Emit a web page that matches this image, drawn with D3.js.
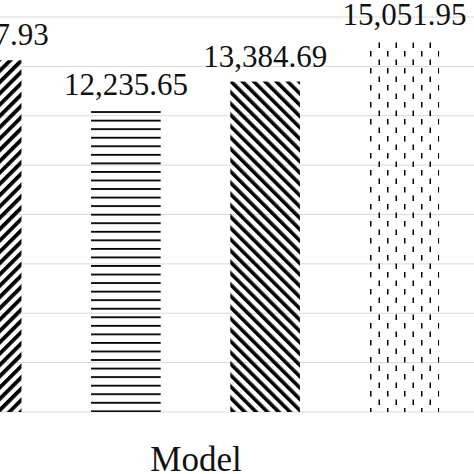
<!DOCTYPE html>
<html>
<head>
<meta charset="utf-8">
<script src="https://cdn.jsdelivr.net/npm/d3@7"></script>
<style>
  body { margin: 0; background: #fff; }
  text { font-family: "Liberation Serif", "DejaVu Serif", serif; fill: #111; }
</style>
</head>
<body>
<svg id="chart" width="474" height="474"></svg>
<script>
// Chart data
const models = ["M1", "M2", "M3", "M4"];
const values = [14247.93, 12235.65, 13384.69, 15051.95];
const labels = ["14,247.93", "12,235.65", "13,384.69", "15,051.95"];
const gridTicks = [0, 2000, 4000, 6000, 8000, 10000, 12000, 14000, 16000];
const patterns = ["pUp", "pHoriz", "pDown", "pDash"];

const svg = d3.select("#chart");

// Pattern definitions
const defs = svg.append("defs");

const up = defs.append("pattern").attr("id", "pUp")
  .attr("patternUnits", "userSpaceOnUse").attr("width", 8).attr("height", 8)
  .attr("patternTransform", "rotate(45)");
up.append("rect").attr("x", 0).attr("y", 0).attr("width", 3.8).attr("height", 8).attr("fill", "#000");

const down = defs.append("pattern").attr("id", "pDown")
  .attr("patternUnits", "userSpaceOnUse").attr("width", 8).attr("height", 8)
  .attr("patternTransform", "rotate(-45)");
down.append("rect").attr("x", 0).attr("y", 0).attr("width", 3.6).attr("height", 8).attr("fill", "#000");

const horiz = defs.append("pattern").attr("id", "pHoriz")
  .attr("patternUnits", "userSpaceOnUse").attr("width", 10).attr("height", 8.55);
horiz.append("rect").attr("x", 0).attr("y", 0).attr("width", 10).attr("height", 1.8).attr("fill", "#000");

const dash = defs.append("pattern").attr("id", "pDash")
  .attr("patternUnits", "userSpaceOnUse").attr("width", 17).attr("height", 17)
  .attr("x", 370);
dash.append("rect").attr("x", 0).attr("y", 0).attr("width", 1.5).attr("height", 5.5).attr("fill", "#000");
dash.append("rect").attr("x", 8.5).attr("y", 8.5).attr("width", 1.5).attr("height", 5.5).attr("fill", "#000");

// Scales
const x = d3.scaleBand()
  .domain(models)
  .range([-83, 474])
  .paddingInner(0.5)
  .paddingOuter(0.25);

const y = d3.scaleLinear()
  .domain([0, 16000])
  .range([412, 17]);

// Gridlines
svg.append("g")
  .selectAll("line")
  .data(gridTicks)
  .join("line")
  .attr("x1", 0).attr("x2", 474)
  .attr("y1", (d) => y(d)).attr("y2", (d) => y(d))
  .attr("stroke", "#d9d9d9")
  .attr("stroke-width", 1);

// Bars
svg.append("g")
  .selectAll("rect")
  .data(models)
  .join("rect")
  .attr("x", (d) => x(d))
  .attr("width", x.bandwidth())
  .attr("y", (d, i) => y(values[i]))
  .attr("height", (d, i) => y(0) - y(values[i]))
  .attr("fill", (d, i) => `url(#${patterns[i]})`);

// Value labels
svg.append("g")
  .selectAll("text")
  .data(models)
  .join("text")
  .attr("x", (d) => x(d) + x.bandwidth() / 2)
  .attr("y", (d, i) => y(values[i]) - 15)
  .attr("text-anchor", "middle")
  .attr("font-size", 31)
  .text((d, i) => labels[i]);

// Axis title
svg.append("text")
  .attr("x", 196)
  .attr("y", 471)
  .attr("text-anchor", "middle")
  .attr("font-size", 35)
  .text("Model");
</script>
</body>
</html>
